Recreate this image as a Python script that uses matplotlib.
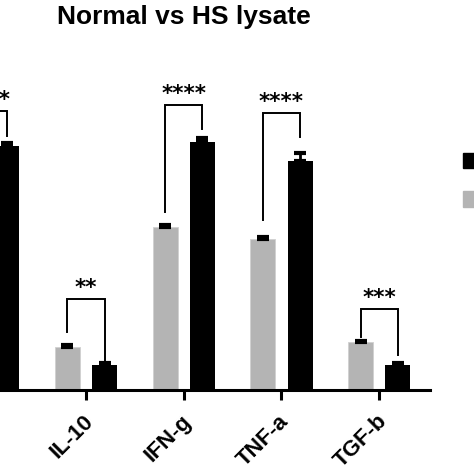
import matplotlib
matplotlib.use("Agg")
import matplotlib.pyplot as plt
import matplotlib.patches as mpatches
import matplotlib.transforms as mtransforms
import numpy as np

GREY = "#b4b4b4"
BLACK = "#000000"

# data (arbitrary units; first group is cropped on the left)
cytokines = ["", "IL-10", "IFN-g", "TNF-a", "TGF-b"]
normal_vals = [110, 43, 163, 151, 48]
normal_err = [2, 2, 1.5, 1.5, 1.5]
hs_vals = [244, 25, 248, 229, 25]
hs_err = [3, 2, 3.5, 8, 2]

sig_labels = ["****", "**", "****", "****", "***"]
sig_left = [130, 58, 178, 170, 53]
sig_right = [254, 28, 261, 253, 35]
sig_top = [279, 91, 285, 277, 81]

plt.rcParams.update({
    "font.family": "Liberation Sans",
    "axes.spines.top": False,
    "axes.spines.right": False,
    "axes.spines.left": False,
})

W = 474
fig = plt.figure(figsize=(4.74, 4.74), dpi=100)
# axes runs off the left edge like the cropped reference
ax = fig.add_axes([-62 / W, 84 / W, 492 / W, 300 / W])

x = np.arange(len(cytokines))
off = 0.19
bw = 0.256

ax.bar(x - off, normal_vals, bw, color=GREY, edgecolor="#d0d0d0", lw=0.6, zorder=2)
ax.bar(x + off, hs_vals, bw, color=BLACK, zorder=2)
ax.errorbar(x - off, normal_vals, yerr=[np.zeros(len(x)), normal_err], fmt="none",
            ecolor="black", elinewidth=2, capsize=4.3, capthick=3, zorder=3)
ax.errorbar(x + off, hs_vals, yerr=[np.zeros(len(x)), hs_err], fmt="none",
            ecolor="black", elinewidth=2, capsize=4.3, capthick=3, zorder=3)

# significance brackets
for i, lab in enumerate(sig_labels):
    xl, xr = i - off, i + off
    ax.plot([xl, xl, xr, xr], [sig_left[i], sig_top[i], sig_top[i], sig_right[i]],
            color="black", lw=1.4, solid_joinstyle="miter")
    ax.text(i, sig_top[i] + 1, lab, ha="center", va="bottom", fontsize=15.5,
            family="DejaVu Sans", fontweight="bold")

ax.set_xlim(-0.515, 4.52)
ax.set_ylim(0, 300)
ax.set_yticks([])
ax.spines["bottom"].set_linewidth(2.2)
ax.set_xticks(x)
ax.set_xticklabels(cytokines, rotation=45, ha="right", va="top",
                   rotation_mode="anchor", fontsize=16, fontweight="bold")
ax.tick_params(axis="x", length=7, width=2.2, pad=8)
shift = mtransforms.ScaledTranslation(-3 / 100, 0, fig.dpi_scale_trans)
for lbl in ax.get_xticklabels():
    lbl.set_transform(lbl.get_transform() + shift)

fig.text(184 / W, 1 - 17 / W, "Normal vs HS lysate", ha="center", va="center",
         fontsize=19, fontweight="bold")

handles = [mpatches.Patch(color=BLACK), mpatches.Patch(color=GREY)]
fig.legend(handles, ["HS lysate", "Normal"], loc="upper left",
           bbox_to_anchor=(463 / W, 1 - 153 / W), frameon=False,
           borderaxespad=0, borderpad=0, fontsize=13, handlelength=1.0,
           handleheight=0.94, labelspacing=1.12, handletextpad=0.6)

fig.savefig("out.png", dpi=100)
